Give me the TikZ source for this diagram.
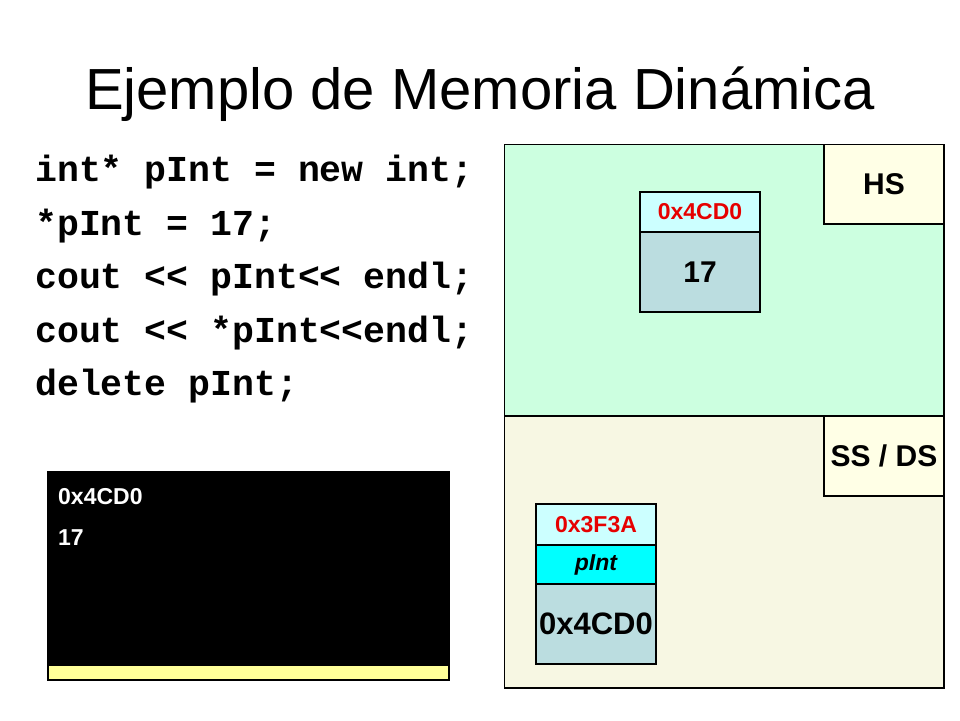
\documentclass[tikz,border=0pt]{standalone}
\usepackage{fontspec}
\setmainfont{Liberation Sans}
\setmonofont{Liberation Mono}
\definecolor{heapgreen}{RGB}{204,255,224}
\definecolor{stackbg}{RGB}{247,247,227}
\definecolor{tagbg}{RGB}{255,255,230}
\definecolor{addrbg}{RGB}{204,255,255}
\definecolor{valbg}{RGB}{187,221,224}
\definecolor{namebg}{RGB}{0,255,255}
\definecolor{barbg}{RGB}{255,255,153}
\definecolor{addrred}{RGB}{230,0,0}
\tikzset{
  box/.style={draw=black,line width=1.2pt,anchor=north west,inner sep=0pt,outer sep=0pt},
  codeline/.style={anchor=base west,inner sep=0pt,font=\fontsize{36.5}{40}\selectfont\ttfamily\bfseries},
  addr/.style={text=addrred,font=\fontsize{23}{26}\selectfont\bfseries},
  big/.style={font=\fontsize{30}{34}\selectfont\bfseries},
  contxt/.style={anchor=west,inner sep=0pt,text=white,font=\fontsize{23}{26}\selectfont\bfseries}
}
\begin{document}
\begin{tikzpicture}[x=1pt,y=-1pt]
\useasboundingbox[fill=white] (0,0) rectangle (960,720);
% title
\node[anchor=base,inner sep=0pt,font=\fontsize{58}{64}\selectfont] (title) at (480,109) {Ejemplo de Memoria Dinámica};
% code
\node[codeline] (c1) at (35,181) {int* pInt = new int;};
\node[codeline] (c2) at (35,235) {*pInt = 17;};
\node[codeline] (c3) at (35,288.5) {cout << pInt<< endl;};
\node[codeline] (c4) at (35,342) {cout << *pInt<<endl;};
\node[codeline] (c5) at (35,395.5) {delete pInt;};
% memory areas
\node[box,fill=heapgreen,minimum width=439.5pt,minimum height=271.5pt] (heap) at (504.5,144.5) {};
\node[box,fill=stackbg,minimum width=439.5pt,minimum height=272pt] (stack) at (504.5,416) {};
\node[box,fill=tagbg,minimum width=120pt,minimum height=79.5pt,big] (hs) at (824,144.5) {HS};
\node[box,fill=tagbg,minimum width=120pt,minimum height=80pt,big] (ss) at (824,416) {SS / DS};
% heap cell
\node[box,fill=addrbg,minimum width=120pt,minimum height=40pt,addr] (haddr) at (640,192) {0x4CD0};
\node[box,fill=valbg,minimum width=120pt,minimum height=80pt,big] (hval) at (640,232) {17};
% stack cell
\node[box,fill=addrbg,minimum width=120pt,minimum height=41pt,addr] (saddr) at (536,504) {0x3F3A};
\node[box,fill=namebg,minimum width=120pt,minimum height=39pt,font=\fontsize{23}{26}\selectfont\bfseries\itshape] (sname) at (536,545) {pInt};
\node[box,fill=valbg,minimum width=120pt,minimum height=80pt,font=\fontsize{31}{34}\selectfont\bfseries] (sval) at (536,584) {0x4CD0};
% console
\node[box,fill=black,minimum width=401pt,minimum height=208pt] (console) at (48,472) {};
\node[box,fill=barbg,minimum width=401pt,minimum height=15pt] (bar) at (48,665) {};
\node[contxt] (o1) at (58,497) {0x4CD0};
\node[contxt] (o2) at (58,537.5) {17};
\end{tikzpicture}
\end{document}
